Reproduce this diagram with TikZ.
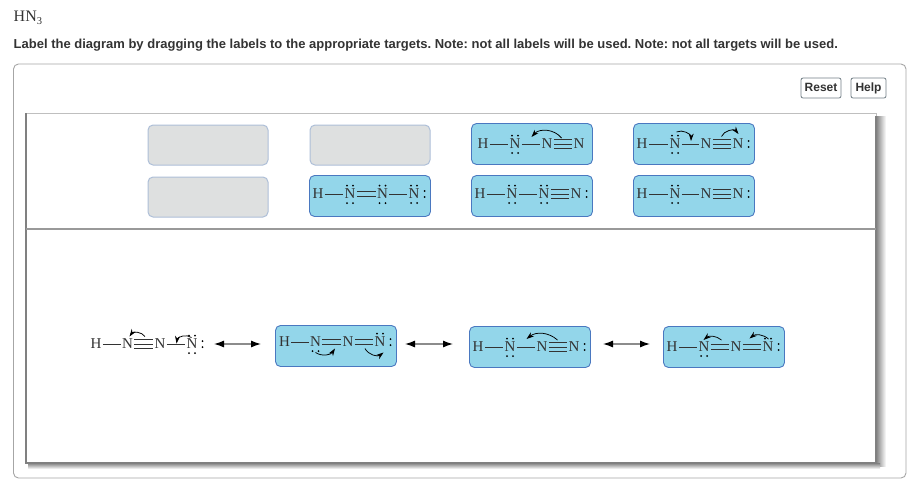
\documentclass[tikz,border=0pt]{standalone}
\usepackage{fontspec}
\setmainfont{Liberation Sans}
\newfontfamily\atomfont{Liberation Serif}
\usetikzlibrary{arrows.meta, positioning}
\definecolor{inktext}{HTML}{333333}
\definecolor{labelblue}{HTML}{93D6EA}
\definecolor{labeledge}{HTML}{4A78C0}
\definecolor{targetgray}{HTML}{DEE0E0}
\definecolor{targetedge}{HTML}{AEBFD8}
\frenchspacing
\tikzset{
    atom/.style={font=\atomfont\fontsize{15}{15}\selectfont, text=inktext, inner sep=1.4pt, outer sep=0pt},
    bond/.style={draw=inktext, line width=0.8pt},
    bondup/.style={bond, transform canvas={yshift=#1}},
    pairdot/.style={fill=black},
    curvy/.style={draw=black, line width=0.75pt, -{Stealth[length=7.5pt,width=5pt]}},
    reso/.style={draw=gray!90, line width=1.2pt, {Latex[length=10pt,width=7pt,black]}-{Latex[length=10pt,width=7pt,black]}},
    labelbox/.style={draw=labeledge, fill=labelblue, line width=0.9pt, rounded corners=5pt, minimum width=121pt, minimum height=41pt, inner sep=0pt},
    targetbox/.style={draw=targetedge, fill=targetgray, line width=1pt, rounded corners=5pt, minimum width=120pt, minimum height=40pt, inner sep=0pt},
    button/.style={draw=black!60!cyan!40!gray, line width=0.8pt, fill=white, rounded corners=2pt, inner sep=0pt, minimum height=20pt, text height=9pt, text depth=2.5pt, font=\bfseries\fontsize{12}{12}\selectfont, text=inktext}
}
% four atoms of one structure: prefix, x of H, x of the three N, y
\newcommand{\atoms}[6]{
    \node[atom] (#1h) at (#2,#6) {H};
    \node[atom] (#1a) at (#3,#6) {N};
    \node[atom] (#1b) at (#4,#6) {N};
    \node[atom] (#1c) at (#5,#6) {N};
    \draw[bond] (#1h) -- (#1a);
}
\newcommand{\bondone}[2]{\draw[bond] (#1) -- (#2);}
\newcommand{\bondtwo}[2]{
    \foreach \s in {-2.4pt,2.4pt}{\draw[bondup=\s] (#1) -- (#2);}
}
\newcommand{\bondthree}[2]{
    \foreach \s in {-4.8pt,0pt,4.8pt}{\draw[bondup=\s] (#1) -- (#2);}
}
\newcommand{\dotstop}[1]{
    \foreach \s in {-3,3}{\fill[pairdot] ([shift={(\s,8.4)}]#1) circle (1pt);}
}
\newcommand{\dotsbot}[1]{
    \foreach \s in {-3,3}{\fill[pairdot] ([shift={(\s,-9)}]#1) circle (1pt);}
}
\newcommand{\dotside}[1]{
    \foreach \s in {-3,3}{\fill[pairdot] ([shift={(10.5,\s)}]#1) circle (1pt);}
}
% curved electron arrow: name, start, end, bend
\newcommand{\curly}[4]{
    \coordinate (#1s) at #2;
    \coordinate (#1e) at #3;
    \draw[curvy] (#1s) to[#4] (#1e);
}
\begin{document}
\begin{tikzpicture}[x=1pt,y=1pt]
    \useasboundingbox (0,0) rectangle (923,-480);
    \fill[white] (0,0) rectangle (923,-480);
    \node[anchor=west, inner sep=0pt, text=inktext, font=\atomfont\fontsize{16}{16}\selectfont] (title) at (13.5,-18) {HN\raisebox{-2.5pt}{\fontsize{10.5}{10.5}\selectfont 3}};
    \node[anchor=west, inner sep=0pt, text=inktext, font=\bfseries\fontsize{13}{13}\selectfont] (prompt) at (13.5,-45.5) {Label the diagram by dragging the labels to the appropriate targets. Note: not all labels will be used. Note: not all targets will be used.};
    \draw[draw=black!35, line width=0.9pt, rounded corners=5pt] (13.5,-64) rectangle (906,-478);
    \node[button, minimum width=40pt] (reset) at (821,-88) {Reset};
    \node[button, minimum width=35pt] (help) at (868.5,-88) {Help};
    % panel with its shadow
    \shade[left color=black!50, right color=white] (876,-116) rectangle (886,-466);
    \shade[top color=black!50, bottom color=white] (28,-463) rectangle (880,-469);
    \draw[black!25, line width=1pt] (26,-463) -- (26,-113) -- (876,-113) -- (876,-463);
    \draw[black!50, line width=2pt] (26,-113) -- (26,-463) -- (876,-463);
    \draw[black!50, line width=1.6pt] (876,-116) -- (876,-463);
    \coordinate (divl) at (26,-229);
    \coordinate (divr) at (876,-229);
    \draw[black!40, line width=1.1pt] (divl) -- (divr);
    % drop targets
    \node[targetbox] (t1) at (208,-145) {};
    \node[targetbox] (t2) at (370,-145) {};
    \node[targetbox] (t3) at (208,-197) {};
    % labels
    \node[labelbox] (l1) at (532,-144) {};
    \node[labelbox] (l2) at (694,-144) {};
    \node[labelbox] (l3) at (370,-196) {};
    \node[labelbox] (l4) at (532,-196) {};
    \node[labelbox] (l5) at (694,-196) {};
    \node[labelbox] (l6) at (336,-346) {};
    \node[labelbox] (l7) at (530,-347) {};
    \node[labelbox] (l8) at (724,-347) {};
    % resonance arrows
    \coordinate (r1a) at (214,-344);
    \coordinate (r1b) at (261,-344);
    \coordinate (r2a) at (405,-344);
    \coordinate (r2b) at (453,-344);
    \coordinate (r3a) at (603,-344);
    \coordinate (r3b) at (650,-344);
    \draw[reso] (r1a) -- (r1b);
    \draw[reso] (r2a) -- (r2b);
    \draw[reso] (r3a) -- (r3b);
    % top row
    \atoms{p}{483}{515}{547}{579}{-144}
    \bondone{pa}{pb}
    \bondthree{pb}{pc}
    \dotstop{pa} \dotsbot{pa}
    \curly{pk}{(561.5,-138)}{(531.5,-137)}{bend right=50}
    \atoms{q}{642}{675}{706}{738}{-144}
    \bondone{qa}{qb}
    \bondthree{qb}{qc}
    \dotstop{qa} \dotsbot{qa} \dotside{qc}
    \curly{qk}{(676.5,-132)}{(691,-141)}{bend left=60}
    \curly{qm}{(721.5,-136.5)}{(738.5,-134)}{bend left=60}
    % second row
    \atoms{u}{318}{350}{382.5}{414}{-194}
    \bondtwo{ua}{ub}
    \bondone{ub}{uc}
    \dotstop{ua} \dotsbot{ua} \dotstop{ub} \dotsbot{ub} \dotstop{uc} \dotsbot{uc} \dotside{uc}
    \atoms{v}{480}{512}{544}{576}{-194}
    \bondone{va}{vb}
    \bondthree{vb}{vc}
    \dotstop{va} \dotsbot{va} \dotstop{vb} \dotsbot{vb} \dotside{vc}
    \atoms{w}{642}{675}{706}{738}{-194}
    \bondone{wa}{wb}
    \bondthree{wb}{wc}
    \dotstop{wa} \dotsbot{wa} \dotside{wc}
    % resonance row
    \atoms{d}{96}{127.5}{160}{192}{-344}
    \bondthree{da}{db}
    \bondone{db}{dc}
    \dotstop{dc} \dotsbot{dc} \dotside{dc}
    \curly{dk}{(145,-336.5)}{(129.5,-336.5)}{bend right=55}
    \curly{dm}{(191.5,-337.5)}{(176.5,-343.5)}{bend right=60}
    \atoms{e}{284.5}{315.5}{348}{380}{-342}
    \bondtwo{ea}{eb}
    \bondtwo{eb}{ec}
    \dotsbot{ea} \dotstop{ec} \dotside{ec}
    \curly{ek}{(315.5,-352.5)}{(335,-348.5)}{bend right=45}
    \curly{em}{(365,-348.5)}{(383.5,-352.5)}{bend right=50}
    \atoms{f}{478}{510}{542}{574}{-347}
    \bondone{fa}{fb}
    \bondthree{fb}{fc}
    \dotstop{fa} \dotsbot{fa} \dotside{fc}
    \curly{fk}{(557.5,-340)}{(526.5,-339)}{bend right=40}
    \atoms{g}{672}{704}{736}{768}{-347}
    \bondtwo{ga}{gb}
    \bondtwo{gb}{gc}
    \dotsbot{ga} \dotstop{gc} \dotside{gc}
    \curly{gk}{(721.5,-340)}{(703.5,-340)}{bend right=40}
    \curly{gm}{(768.5,-339)}{(749.5,-338.5)}{bend right=40}
\end{tikzpicture}
\end{document}
